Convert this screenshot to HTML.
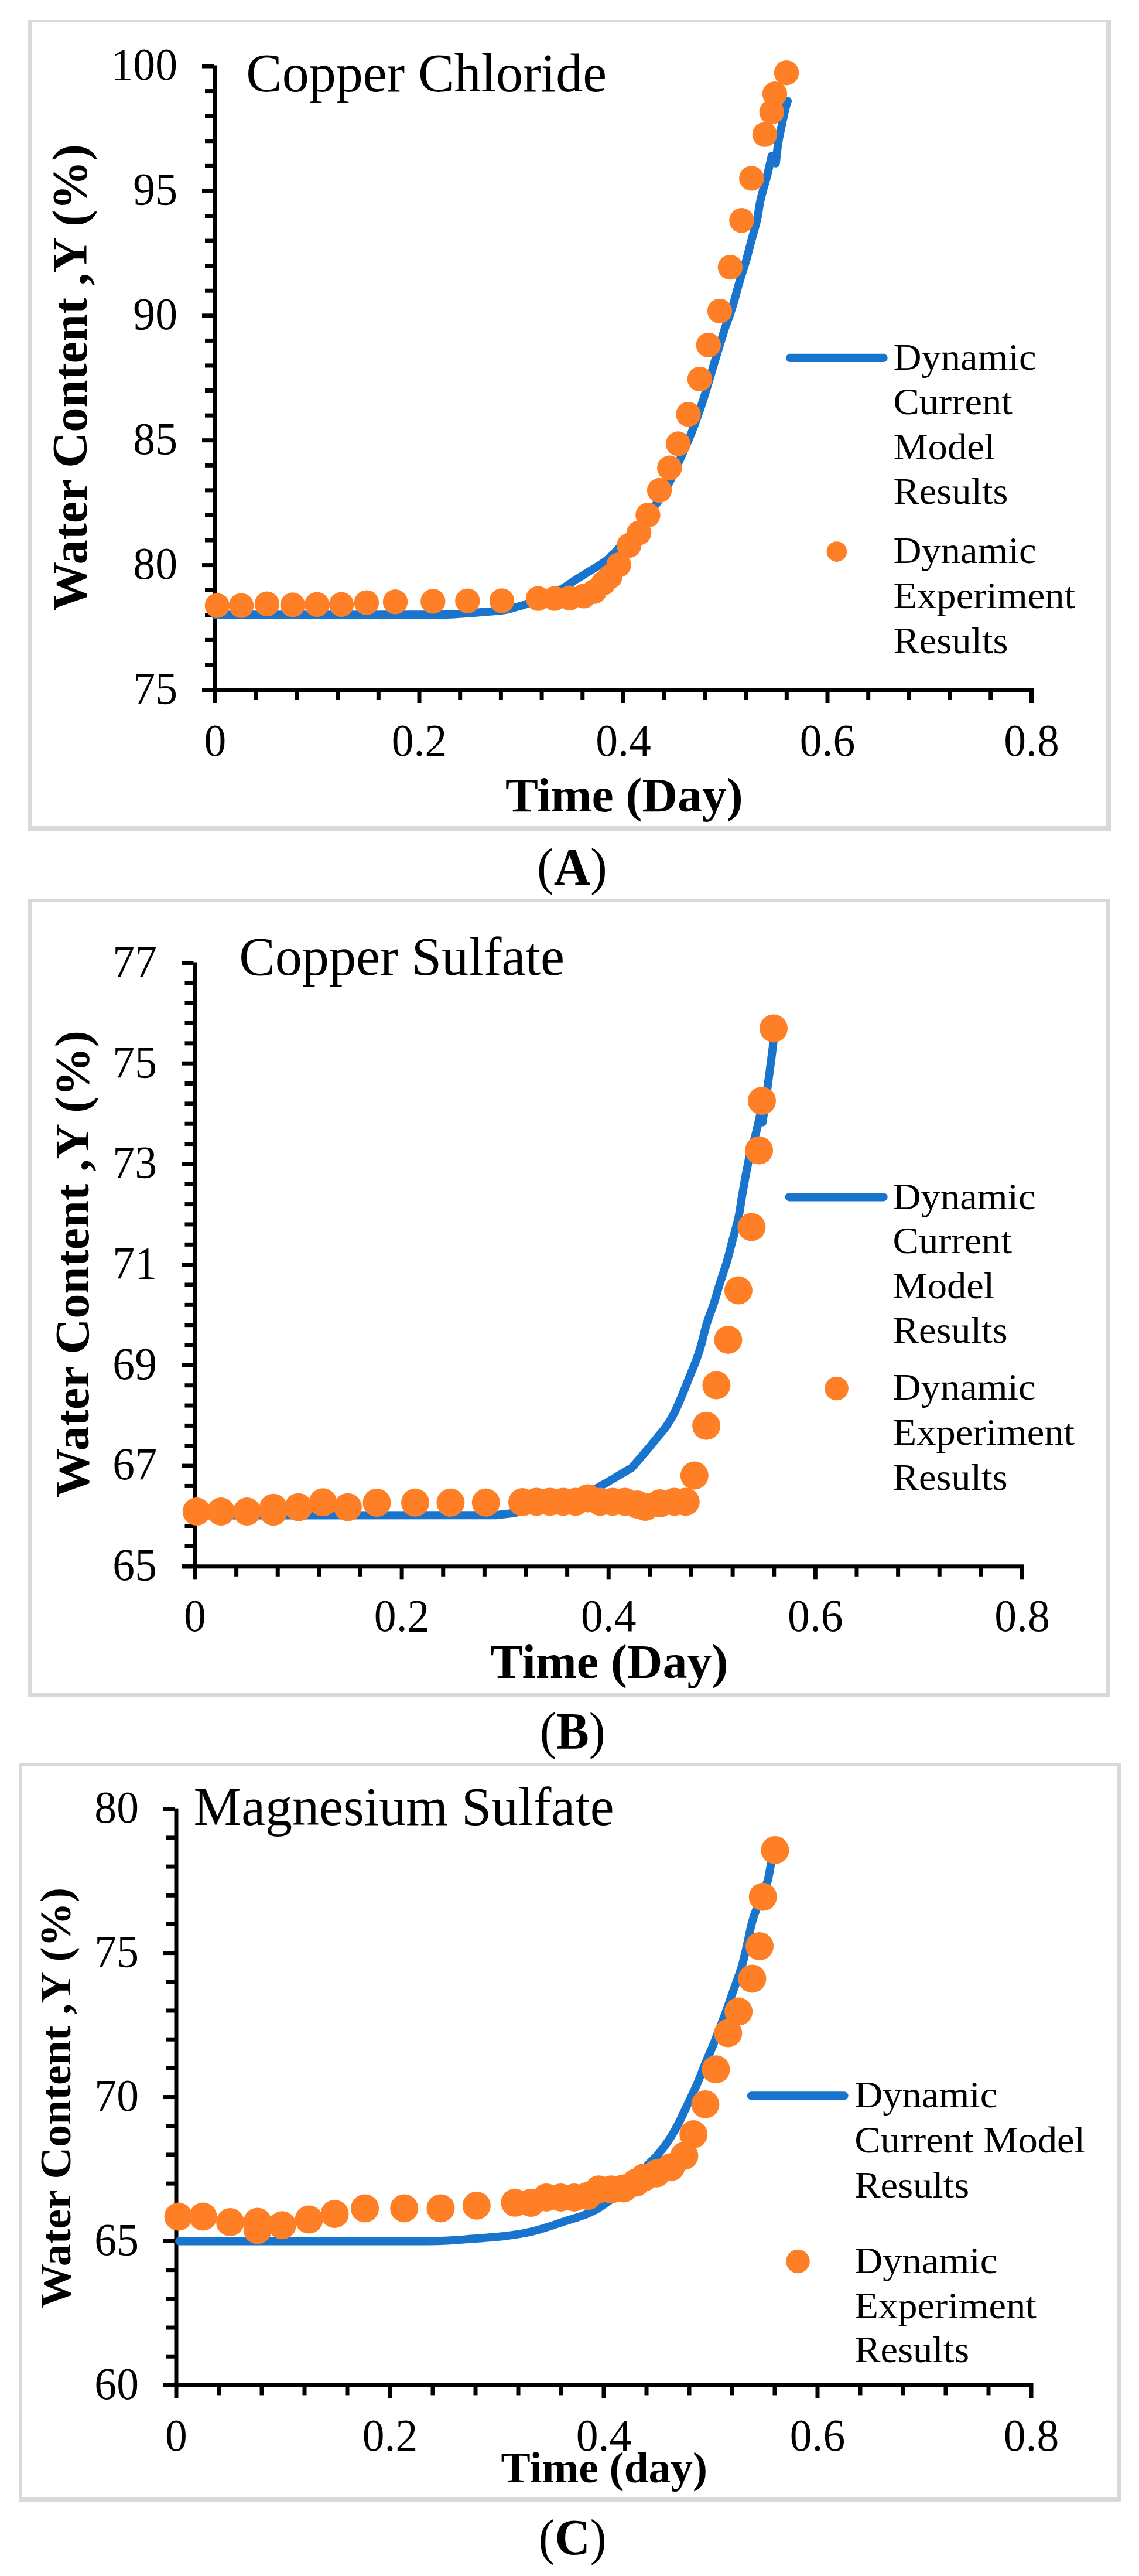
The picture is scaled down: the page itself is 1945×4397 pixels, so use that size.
<!DOCTYPE html>
<html lang="en"><head><meta charset="utf-8"><title>Water content vs time</title>
<style>html,body{margin:0;padding:0;background:#fff}svg{display:block}</style></head>
<body>
<svg width="1945" height="4397" viewBox="0 0 1945 4397" font-family='"Liberation Serif", serif' fill="#000">
<rect width="1945" height="4397" fill="#fff"/>
<rect x="48" y="34" width="1849" height="1384" fill="#d9d9d9"/>
<rect x="55" y="38" width="1834" height="1372" fill="#fff"/>
<rect x="364.00" y="111.50" width="7" height="1069.50" fill="#000"/>
<rect x="345.00" y="1174.00" width="1420.00" height="7" fill="#000"/>
<rect x="345.00" y="1174.00" width="20.00" height="7" fill="#000"/>
<text transform="translate(303.00 1200.90) scale(0.9700 1)" font-size="78.00" text-anchor="end" >75</text>
<rect x="350.00" y="1131.42" width="15.00" height="7" fill="#000"/>
<rect x="350.00" y="1088.84" width="15.00" height="7" fill="#000"/>
<rect x="350.00" y="1046.26" width="15.00" height="7" fill="#000"/>
<rect x="350.00" y="1003.68" width="15.00" height="7" fill="#000"/>
<rect x="345.00" y="961.10" width="20.00" height="7" fill="#000"/>
<text transform="translate(303.00 988.00) scale(0.9700 1)" font-size="78.00" text-anchor="end" >80</text>
<rect x="350.00" y="918.52" width="15.00" height="7" fill="#000"/>
<rect x="350.00" y="875.94" width="15.00" height="7" fill="#000"/>
<rect x="350.00" y="833.36" width="15.00" height="7" fill="#000"/>
<rect x="350.00" y="790.78" width="15.00" height="7" fill="#000"/>
<rect x="345.00" y="748.20" width="20.00" height="7" fill="#000"/>
<text transform="translate(303.00 775.10) scale(0.9700 1)" font-size="78.00" text-anchor="end" >85</text>
<rect x="350.00" y="705.62" width="15.00" height="7" fill="#000"/>
<rect x="350.00" y="663.04" width="15.00" height="7" fill="#000"/>
<rect x="350.00" y="620.46" width="15.00" height="7" fill="#000"/>
<rect x="350.00" y="577.88" width="15.00" height="7" fill="#000"/>
<rect x="345.00" y="535.30" width="20.00" height="7" fill="#000"/>
<text transform="translate(303.00 562.20) scale(0.9700 1)" font-size="78.00" text-anchor="end" >90</text>
<rect x="350.00" y="492.72" width="15.00" height="7" fill="#000"/>
<rect x="350.00" y="450.14" width="15.00" height="7" fill="#000"/>
<rect x="350.00" y="407.56" width="15.00" height="7" fill="#000"/>
<rect x="350.00" y="364.98" width="15.00" height="7" fill="#000"/>
<rect x="345.00" y="322.40" width="20.00" height="7" fill="#000"/>
<text transform="translate(303.00 349.30) scale(0.9700 1)" font-size="78.00" text-anchor="end" >95</text>
<rect x="350.00" y="279.82" width="15.00" height="7" fill="#000"/>
<rect x="350.00" y="237.24" width="15.00" height="7" fill="#000"/>
<rect x="350.00" y="194.66" width="15.00" height="7" fill="#000"/>
<rect x="350.00" y="152.08" width="15.00" height="7" fill="#000"/>
<rect x="345.00" y="109.50" width="20.00" height="7" fill="#000"/>
<text transform="translate(303.00 136.40) scale(0.9700 1)" font-size="78.00" text-anchor="end" >100</text>
<rect x="364.00" y="1180.00" width="7" height="20.00" fill="#000"/>
<text transform="translate(367.50 1290.00) scale(0.9700 1)" font-size="78.00" text-anchor="middle" >0</text>
<rect x="433.70" y="1180.00" width="7" height="14.50" fill="#000"/>
<rect x="503.40" y="1180.00" width="7" height="14.50" fill="#000"/>
<rect x="573.10" y="1180.00" width="7" height="14.50" fill="#000"/>
<rect x="642.80" y="1180.00" width="7" height="14.50" fill="#000"/>
<rect x="712.50" y="1180.00" width="7" height="20.00" fill="#000"/>
<text transform="translate(716.00 1290.00) scale(0.9700 1)" font-size="78.00" text-anchor="middle" >0.2</text>
<rect x="782.20" y="1180.00" width="7" height="14.50" fill="#000"/>
<rect x="851.90" y="1180.00" width="7" height="14.50" fill="#000"/>
<rect x="921.60" y="1180.00" width="7" height="14.50" fill="#000"/>
<rect x="991.30" y="1180.00" width="7" height="14.50" fill="#000"/>
<rect x="1061.00" y="1180.00" width="7" height="20.00" fill="#000"/>
<text transform="translate(1064.50 1290.00) scale(0.9700 1)" font-size="78.00" text-anchor="middle" >0.4</text>
<rect x="1130.70" y="1180.00" width="7" height="14.50" fill="#000"/>
<rect x="1200.40" y="1180.00" width="7" height="14.50" fill="#000"/>
<rect x="1270.10" y="1180.00" width="7" height="14.50" fill="#000"/>
<rect x="1339.80" y="1180.00" width="7" height="14.50" fill="#000"/>
<rect x="1409.50" y="1180.00" width="7" height="20.00" fill="#000"/>
<text transform="translate(1413.00 1290.00) scale(0.9700 1)" font-size="78.00" text-anchor="middle" >0.6</text>
<rect x="1479.20" y="1180.00" width="7" height="14.50" fill="#000"/>
<rect x="1548.90" y="1180.00" width="7" height="14.50" fill="#000"/>
<rect x="1618.60" y="1180.00" width="7" height="14.50" fill="#000"/>
<rect x="1688.30" y="1180.00" width="7" height="14.50" fill="#000"/>
<rect x="1758.00" y="1180.00" width="7" height="20.00" fill="#000"/>
<text transform="translate(1761.50 1290.00) scale(0.9700 1)" font-size="78.00" text-anchor="middle" >0.8</text>
<path d="M367.0 1049.3 C491.3 1049.3 615.7 1049.3 740.0 1049.3 C751.7 1049.0 763.3 1049.1 775.0 1048.5 C789.6 1047.7 813.1 1045.8 827.8 1044.6 C839.5 1043.6 854.0 1042.5 862.9 1041.1 C869.2 1040.1 876.4 1037.5 881.4 1036.2 C885.2 1035.2 889.1 1034.7 892.8 1033.3 C905.2 1028.5 940.4 1014.5 955.6 1007.1 C965.8 1002.1 976.8 993.5 984.2 988.8 C989.4 985.5 994.8 982.4 1000.0 979.1 C1008.3 973.9 1025.4 964.1 1034.2 957.5 C1041.1 952.4 1047.1 946.0 1053.0 939.7 C1060.3 931.8 1069.9 920.1 1078.3 910.3 C1089.3 897.5 1108.1 877.2 1118.8 862.9 C1127.8 850.8 1136.1 836.0 1142.5 824.3 C1148.1 814.1 1152.6 803.3 1157.4 792.7 C1163.9 778.2 1174.2 755.7 1181.5 737.0 C1188.8 718.4 1195.3 699.5 1201.5 680.5 C1207.9 660.8 1213.7 639.5 1219.9 619.0 C1226.1 598.5 1234.6 570.8 1238.9 557.6 C1240.8 551.6 1243.5 545.9 1245.5 540.0 C1247.9 533.0 1250.8 523.8 1253.2 515.6 C1256.1 505.7 1259.5 492.1 1262.9 480.5 C1266.4 468.8 1270.5 457.1 1273.9 445.4 C1277.3 433.7 1280.1 421.9 1283.2 410.2 C1286.3 398.5 1290.1 386.8 1292.7 375.1 C1295.3 363.5 1296.3 351.6 1299.0 340.0 C1302.0 327.1 1307.3 310.3 1310.4 298.0 C1313.1 287.5 1315.3 276.9 1317.8 266.4 C1320.1 270.5 1322.5 274.6 1324.8 278.7 C1326.1 267.6 1326.9 256.4 1328.7 245.4 C1330.5 234.0 1333.6 220.4 1335.7 210.2 C1337.5 201.4 1340.0 190.2 1341.5 183.9 C1342.5 180.0 1343.8 176.3 1345.0 172.5" fill="none" stroke="#1874cd" stroke-width="14" stroke-linecap="round" stroke-linejoin="round"/>
<g fill="#ff7f27"><circle cx="370.9" cy="1033.6" r="21.2"/><circle cx="412.0" cy="1033.6" r="21.2"/><circle cx="455.9" cy="1030.8" r="21.2"/><circle cx="499.8" cy="1032.5" r="21.2"/><circle cx="541.2" cy="1031.8" r="21.2"/><circle cx="583.0" cy="1031.8" r="21.2"/><circle cx="625.9" cy="1028.7" r="21.2"/><circle cx="675.0" cy="1027.3" r="21.2"/><circle cx="739.3" cy="1026.4" r="21.2"/><circle cx="798.3" cy="1025.7" r="21.2"/><circle cx="857.0" cy="1025.4" r="21.2"/><circle cx="919.0" cy="1021.6" r="21.2"/><circle cx="947.0" cy="1021.6" r="21.2"/><circle cx="972.7" cy="1020.8" r="21.2"/><circle cx="997.0" cy="1017.4" r="21.2"/><circle cx="1014.9" cy="1009.6" r="21.2"/><circle cx="1030.2" cy="995.5" r="21.2"/><circle cx="1041.5" cy="984.5" r="21.2"/><circle cx="1056.6" cy="964.3" r="21.2"/><circle cx="1074.2" cy="931.0" r="21.2"/><circle cx="1091.2" cy="909.5" r="21.2"/><circle cx="1106.4" cy="879.2" r="21.2"/><circle cx="1126.1" cy="837.0" r="21.2"/><circle cx="1143.3" cy="798.8" r="21.2"/><circle cx="1158.0" cy="757.5" r="21.2"/><circle cx="1175.4" cy="707.2" r="21.2"/><circle cx="1194.9" cy="646.9" r="21.2"/><circle cx="1209.8" cy="588.9" r="21.2"/><circle cx="1229.0" cy="530.9" r="21.2"/><circle cx="1246.9" cy="456.1" r="21.2"/><circle cx="1266.4" cy="376.3" r="21.2"/><circle cx="1283.3" cy="304.4" r="21.2"/><circle cx="1305.9" cy="229.6" r="21.2"/><circle cx="1317.8" cy="191.1" r="21.2"/><circle cx="1323.0" cy="160.3" r="21.2"/><circle cx="1343.0" cy="124.2" r="21.2"/></g>
<line x1="1349.0" y1="610.9" x2="1508.6" y2="610.9" stroke="#1874cd" stroke-width="14.2" stroke-linecap="round"/>
<circle cx="1428.9" cy="941.6" r="17.3" fill="#ff7f27"/>
<text transform="translate(1525.40 631.30) scale(1.0570 1)" font-size="63.00" text-anchor="start" >Dynamic</text>
<text transform="translate(1525.40 706.50) scale(1.0570 1)" font-size="63.00" text-anchor="start" >Current</text>
<text transform="translate(1525.40 783.70) scale(1.0570 1)" font-size="63.00" text-anchor="start" >Model</text>
<text transform="translate(1525.40 860.00) scale(1.0570 1)" font-size="63.00" text-anchor="start" >Results</text>
<text transform="translate(1525.40 960.70) scale(1.0570 1)" font-size="63.00" text-anchor="start" >Dynamic</text>
<text transform="translate(1525.40 1037.90) scale(1.0570 1)" font-size="63.00" text-anchor="start" >Experiment</text>
<text transform="translate(1525.40 1114.60) scale(1.0570 1)" font-size="63.00" text-anchor="start" >Results</text>
<rect x="48" y="1534" width="1848" height="1363" fill="#d9d9d9"/>
<rect x="55" y="1539" width="1833" height="1350" fill="#fff"/>
<rect x="329.50" y="1642.50" width="7" height="1034.80" fill="#000"/>
<rect x="310.50" y="2670.30" width="1438.50" height="7" fill="#000"/>
<rect x="310.50" y="2670.30" width="20.00" height="7" fill="#000"/>
<text transform="translate(268.00 2697.20) scale(0.9700 1)" font-size="78.00" text-anchor="end" >65</text>
<rect x="315.50" y="2635.96" width="15.00" height="7" fill="#000"/>
<rect x="315.50" y="2601.61" width="15.00" height="7" fill="#000"/>
<rect x="315.50" y="2567.27" width="15.00" height="7" fill="#000"/>
<rect x="315.50" y="2532.92" width="15.00" height="7" fill="#000"/>
<rect x="310.50" y="2498.58" width="20.00" height="7" fill="#000"/>
<text transform="translate(268.00 2525.48) scale(0.9700 1)" font-size="78.00" text-anchor="end" >67</text>
<rect x="315.50" y="2464.24" width="15.00" height="7" fill="#000"/>
<rect x="315.50" y="2429.89" width="15.00" height="7" fill="#000"/>
<rect x="315.50" y="2395.55" width="15.00" height="7" fill="#000"/>
<rect x="315.50" y="2361.20" width="15.00" height="7" fill="#000"/>
<rect x="310.50" y="2326.86" width="20.00" height="7" fill="#000"/>
<text transform="translate(268.00 2353.76) scale(0.9700 1)" font-size="78.00" text-anchor="end" >69</text>
<rect x="315.50" y="2292.52" width="15.00" height="7" fill="#000"/>
<rect x="315.50" y="2258.17" width="15.00" height="7" fill="#000"/>
<rect x="315.50" y="2223.83" width="15.00" height="7" fill="#000"/>
<rect x="315.50" y="2189.48" width="15.00" height="7" fill="#000"/>
<rect x="310.50" y="2155.14" width="20.00" height="7" fill="#000"/>
<text transform="translate(268.00 2182.04) scale(0.9700 1)" font-size="78.00" text-anchor="end" >71</text>
<rect x="315.50" y="2120.80" width="15.00" height="7" fill="#000"/>
<rect x="315.50" y="2086.45" width="15.00" height="7" fill="#000"/>
<rect x="315.50" y="2052.11" width="15.00" height="7" fill="#000"/>
<rect x="315.50" y="2017.76" width="15.00" height="7" fill="#000"/>
<rect x="310.50" y="1983.42" width="20.00" height="7" fill="#000"/>
<text transform="translate(268.00 2010.32) scale(0.9700 1)" font-size="78.00" text-anchor="end" >73</text>
<rect x="315.50" y="1949.08" width="15.00" height="7" fill="#000"/>
<rect x="315.50" y="1914.73" width="15.00" height="7" fill="#000"/>
<rect x="315.50" y="1880.39" width="15.00" height="7" fill="#000"/>
<rect x="315.50" y="1846.04" width="15.00" height="7" fill="#000"/>
<rect x="310.50" y="1811.70" width="20.00" height="7" fill="#000"/>
<text transform="translate(268.00 1838.60) scale(0.9700 1)" font-size="78.00" text-anchor="end" >75</text>
<rect x="315.50" y="1777.36" width="15.00" height="7" fill="#000"/>
<rect x="315.50" y="1743.01" width="15.00" height="7" fill="#000"/>
<rect x="315.50" y="1708.67" width="15.00" height="7" fill="#000"/>
<rect x="315.50" y="1674.32" width="15.00" height="7" fill="#000"/>
<rect x="310.50" y="1639.98" width="20.00" height="7" fill="#000"/>
<text transform="translate(268.00 1666.88) scale(0.9700 1)" font-size="78.00" text-anchor="end" >77</text>
<rect x="329.50" y="2676.30" width="7" height="20.00" fill="#000"/>
<text transform="translate(333.00 2784.00) scale(0.9700 1)" font-size="78.00" text-anchor="middle" >0</text>
<rect x="400.12" y="2676.30" width="7" height="14.50" fill="#000"/>
<rect x="470.75" y="2676.30" width="7" height="14.50" fill="#000"/>
<rect x="541.37" y="2676.30" width="7" height="14.50" fill="#000"/>
<rect x="612.00" y="2676.30" width="7" height="14.50" fill="#000"/>
<rect x="682.62" y="2676.30" width="7" height="20.00" fill="#000"/>
<text transform="translate(686.12 2784.00) scale(0.9700 1)" font-size="78.00" text-anchor="middle" >0.2</text>
<rect x="753.24" y="2676.30" width="7" height="14.50" fill="#000"/>
<rect x="823.87" y="2676.30" width="7" height="14.50" fill="#000"/>
<rect x="894.49" y="2676.30" width="7" height="14.50" fill="#000"/>
<rect x="965.12" y="2676.30" width="7" height="14.50" fill="#000"/>
<rect x="1035.74" y="2676.30" width="7" height="20.00" fill="#000"/>
<text transform="translate(1039.24 2784.00) scale(0.9700 1)" font-size="78.00" text-anchor="middle" >0.4</text>
<rect x="1106.36" y="2676.30" width="7" height="14.50" fill="#000"/>
<rect x="1176.99" y="2676.30" width="7" height="14.50" fill="#000"/>
<rect x="1247.61" y="2676.30" width="7" height="14.50" fill="#000"/>
<rect x="1318.24" y="2676.30" width="7" height="14.50" fill="#000"/>
<rect x="1388.86" y="2676.30" width="7" height="20.00" fill="#000"/>
<text transform="translate(1392.36 2784.00) scale(0.9700 1)" font-size="78.00" text-anchor="middle" >0.6</text>
<rect x="1459.48" y="2676.30" width="7" height="14.50" fill="#000"/>
<rect x="1530.11" y="2676.30" width="7" height="14.50" fill="#000"/>
<rect x="1600.73" y="2676.30" width="7" height="14.50" fill="#000"/>
<rect x="1671.36" y="2676.30" width="7" height="14.50" fill="#000"/>
<rect x="1741.98" y="2676.30" width="7" height="20.00" fill="#000"/>
<text transform="translate(1745.48 2784.00) scale(0.9700 1)" font-size="78.00" text-anchor="middle" >0.8</text>
<path d="M333.0 2586.6 C504.0 2586.5 675.0 2586.4 846.0 2586.3 C857.3 2584.9 868.7 2583.9 880.0 2582.0 C892.3 2579.9 906.8 2577.3 920.0 2574.0 C933.3 2570.7 946.7 2566.0 960.0 2562.0 C973.3 2558.0 988.6 2554.5 1000.0 2550.0 C1010.0 2546.0 1019.1 2540.2 1028.5 2534.9 C1041.7 2527.4 1062.2 2515.1 1079.0 2505.2 C1085.6 2497.5 1092.3 2489.9 1098.8 2482.2 C1105.8 2474.0 1114.1 2463.9 1120.7 2455.8 C1126.6 2448.6 1133.2 2441.2 1138.3 2433.9 C1143.2 2426.9 1147.5 2419.5 1151.4 2411.9 C1155.7 2403.5 1160.0 2392.9 1164.0 2383.4 C1168.0 2374.0 1171.7 2364.4 1175.5 2354.9 C1179.8 2344.3 1185.8 2329.9 1189.5 2320.0 C1192.5 2312.0 1195.1 2303.8 1197.4 2295.6 C1200.2 2285.7 1203.0 2272.1 1206.5 2260.5 C1210.1 2248.8 1215.0 2237.1 1218.8 2225.4 C1222.6 2213.7 1225.7 2201.9 1229.4 2190.2 C1233.1 2178.5 1237.3 2166.8 1240.8 2155.1 C1244.2 2143.5 1247.0 2131.7 1250.1 2120.0 C1253.5 2107.2 1258.3 2090.8 1261.1 2078.0 C1263.6 2066.4 1264.9 2054.6 1266.9 2042.9 C1268.9 2031.2 1271.5 2016.6 1273.1 2007.8 C1274.2 2001.9 1275.4 1996.0 1276.6 1990.2 C1277.8 1984.4 1278.6 1978.5 1280.1 1972.7 C1282.2 1964.3 1286.6 1951.0 1289.4 1940.0 C1292.3 1928.7 1294.9 1916.7 1297.6 1905.0 C1299.1 1908.5 1300.7 1912.1 1302.2 1915.6 C1305.5 1892.2 1309.6 1863.0 1312.0 1845.4 C1313.6 1833.7 1315.3 1821.9 1316.8 1810.2 C1318.4 1798.0 1319.9 1784.7 1321.5 1772.0" fill="none" stroke="#1874cd" stroke-width="14" stroke-linecap="round" stroke-linejoin="round"/>
<g fill="#ff7f27"><circle cx="335.8" cy="2580.1" r="24"/><circle cx="377.3" cy="2580.1" r="24"/><circle cx="421.9" cy="2580.1" r="24"/><circle cx="466.8" cy="2580.4" r="24"/><circle cx="466.8" cy="2573.7" r="24"/><circle cx="509.7" cy="2572.7" r="24"/><circle cx="551.4" cy="2564.3" r="24"/><circle cx="593.9" cy="2572.7" r="24"/><circle cx="643.5" cy="2565.0" r="24"/><circle cx="709.0" cy="2564.8" r="24"/><circle cx="769.4" cy="2564.8" r="24"/><circle cx="829.8" cy="2564.8" r="24"/><circle cx="892.0" cy="2564.1" r="24"/><circle cx="916.2" cy="2563.4" r="24"/><circle cx="939.0" cy="2563.4" r="24"/><circle cx="961.8" cy="2563.4" r="24"/><circle cx="982.9" cy="2563.4" r="24"/><circle cx="1004.0" cy="2557.5" r="24"/><circle cx="1025.0" cy="2563.4" r="24"/><circle cx="1046.0" cy="2563.4" r="24"/><circle cx="1067.0" cy="2563.4" r="24"/><circle cx="1088.3" cy="2568.0" r="24"/><circle cx="1102.0" cy="2572.0" r="24"/><circle cx="1127.0" cy="2566.0" r="24"/><circle cx="1151.5" cy="2563.4" r="24"/><circle cx="1170.8" cy="2563.4" r="24"/><circle cx="1185.8" cy="2518.6" r="24"/><circle cx="1206.1" cy="2433.7" r="24"/><circle cx="1223.4" cy="2364.5" r="24"/><circle cx="1243.4" cy="2286.9" r="24"/><circle cx="1260.9" cy="2202.6" r="24"/><circle cx="1283.4" cy="2094.5" r="24"/><circle cx="1296.1" cy="1963.6" r="24"/><circle cx="1301.0" cy="1879.0" r="24"/><circle cx="1321.0" cy="1755.4" r="24"/></g>
<line x1="1347.7" y1="2043.3" x2="1508.6" y2="2043.3" stroke="#1874cd" stroke-width="14.2" stroke-linecap="round"/>
<circle cx="1428.6" cy="2370.0" r="20.3" fill="#ff7f27"/>
<text transform="translate(1524.50 2063.70) scale(1.0570 1)" font-size="63.00" text-anchor="start" >Dynamic</text>
<text transform="translate(1524.50 2139.00) scale(1.0570 1)" font-size="63.00" text-anchor="start" >Current</text>
<text transform="translate(1524.50 2216.20) scale(1.0570 1)" font-size="63.00" text-anchor="start" >Model</text>
<text transform="translate(1524.50 2292.40) scale(1.0570 1)" font-size="63.00" text-anchor="start" >Results</text>
<text transform="translate(1524.50 2389.20) scale(1.0570 1)" font-size="63.00" text-anchor="start" >Dynamic</text>
<text transform="translate(1524.50 2465.90) scale(1.0570 1)" font-size="63.00" text-anchor="start" >Experiment</text>
<text transform="translate(1524.50 2543.10) scale(1.0570 1)" font-size="63.00" text-anchor="start" >Results</text>
<rect x="32" y="3009" width="1883" height="1261" fill="#d9d9d9"/>
<rect x="37" y="3014" width="1871" height="1248" fill="#fff"/>
<rect x="297.50" y="3086.70" width="7" height="988.20" fill="#000"/>
<rect x="278.50" y="4067.90" width="1486.00" height="7" fill="#000"/>
<rect x="278.50" y="4067.90" width="20.00" height="7" fill="#000"/>
<text transform="translate(237.00 4094.80) scale(0.9700 1)" font-size="78.00" text-anchor="end" >60</text>
<rect x="283.50" y="4018.72" width="15.00" height="7" fill="#000"/>
<rect x="283.50" y="3969.53" width="15.00" height="7" fill="#000"/>
<rect x="283.50" y="3920.35" width="15.00" height="7" fill="#000"/>
<rect x="283.50" y="3871.16" width="15.00" height="7" fill="#000"/>
<rect x="278.50" y="3821.97" width="20.00" height="7" fill="#000"/>
<text transform="translate(237.00 3848.88) scale(0.9700 1)" font-size="78.00" text-anchor="end" >65</text>
<rect x="283.50" y="3772.79" width="15.00" height="7" fill="#000"/>
<rect x="283.50" y="3723.61" width="15.00" height="7" fill="#000"/>
<rect x="283.50" y="3674.42" width="15.00" height="7" fill="#000"/>
<rect x="283.50" y="3625.24" width="15.00" height="7" fill="#000"/>
<rect x="278.50" y="3576.05" width="20.00" height="7" fill="#000"/>
<text transform="translate(237.00 3602.95) scale(0.9700 1)" font-size="78.00" text-anchor="end" >70</text>
<rect x="283.50" y="3526.86" width="15.00" height="7" fill="#000"/>
<rect x="283.50" y="3477.68" width="15.00" height="7" fill="#000"/>
<rect x="283.50" y="3428.49" width="15.00" height="7" fill="#000"/>
<rect x="283.50" y="3379.31" width="15.00" height="7" fill="#000"/>
<rect x="278.50" y="3330.12" width="20.00" height="7" fill="#000"/>
<text transform="translate(237.00 3357.03) scale(0.9700 1)" font-size="78.00" text-anchor="end" >75</text>
<rect x="283.50" y="3280.94" width="15.00" height="7" fill="#000"/>
<rect x="283.50" y="3231.76" width="15.00" height="7" fill="#000"/>
<rect x="283.50" y="3182.57" width="15.00" height="7" fill="#000"/>
<rect x="283.50" y="3133.39" width="15.00" height="7" fill="#000"/>
<rect x="278.50" y="3084.20" width="20.00" height="7" fill="#000"/>
<text transform="translate(237.00 3111.10) scale(0.9700 1)" font-size="78.00" text-anchor="end" >80</text>
<rect x="297.50" y="4073.90" width="7" height="20.00" fill="#000"/>
<text transform="translate(301.00 4183.00) scale(0.9700 1)" font-size="78.00" text-anchor="middle" >0</text>
<rect x="370.50" y="4073.90" width="7" height="14.50" fill="#000"/>
<rect x="443.50" y="4073.90" width="7" height="14.50" fill="#000"/>
<rect x="516.50" y="4073.90" width="7" height="14.50" fill="#000"/>
<rect x="589.50" y="4073.90" width="7" height="14.50" fill="#000"/>
<rect x="662.50" y="4073.90" width="7" height="20.00" fill="#000"/>
<text transform="translate(666.00 4183.00) scale(0.9700 1)" font-size="78.00" text-anchor="middle" >0.2</text>
<rect x="735.50" y="4073.90" width="7" height="14.50" fill="#000"/>
<rect x="808.50" y="4073.90" width="7" height="14.50" fill="#000"/>
<rect x="881.50" y="4073.90" width="7" height="14.50" fill="#000"/>
<rect x="954.50" y="4073.90" width="7" height="14.50" fill="#000"/>
<rect x="1027.50" y="4073.90" width="7" height="20.00" fill="#000"/>
<text transform="translate(1031.00 4183.00) scale(0.9700 1)" font-size="78.00" text-anchor="middle" >0.4</text>
<rect x="1100.50" y="4073.90" width="7" height="14.50" fill="#000"/>
<rect x="1173.50" y="4073.90" width="7" height="14.50" fill="#000"/>
<rect x="1246.50" y="4073.90" width="7" height="14.50" fill="#000"/>
<rect x="1319.50" y="4073.90" width="7" height="14.50" fill="#000"/>
<rect x="1392.50" y="4073.90" width="7" height="20.00" fill="#000"/>
<text transform="translate(1396.00 4183.00) scale(0.9700 1)" font-size="78.00" text-anchor="middle" >0.6</text>
<rect x="1465.50" y="4073.90" width="7" height="14.50" fill="#000"/>
<rect x="1538.50" y="4073.90" width="7" height="14.50" fill="#000"/>
<rect x="1611.50" y="4073.90" width="7" height="14.50" fill="#000"/>
<rect x="1684.50" y="4073.90" width="7" height="14.50" fill="#000"/>
<rect x="1757.50" y="4073.90" width="7" height="20.00" fill="#000"/>
<text transform="translate(1761.00 4183.00) scale(0.9700 1)" font-size="78.00" text-anchor="middle" >0.8</text>
<path d="M306.0 3825.5 C437.3 3825.5 568.7 3825.6 700.0 3825.6 C717.6 3825.4 735.2 3825.8 752.7 3825.1 C770.2 3824.4 787.8 3822.9 805.3 3821.6 C822.8 3820.3 844.8 3818.5 858.0 3817.2 C866.8 3816.3 875.6 3815.1 884.4 3813.7 C893.2 3812.2 902.0 3810.7 910.7 3808.5 C919.5 3806.3 928.3 3803.4 937.0 3800.6 C945.8 3797.8 954.6 3794.8 963.4 3791.9 C973.9 3788.5 989.9 3784.0 1000.0 3780.0 C1008.3 3776.7 1016.6 3773.0 1024.0 3768.0 C1035.7 3760.2 1055.7 3745.7 1070.0 3733.0 C1084.3 3720.3 1100.9 3700.8 1109.7 3691.7 C1114.0 3687.2 1118.9 3683.3 1122.9 3678.5 C1128.4 3671.9 1136.9 3661.0 1142.7 3652.2 C1148.3 3643.7 1153.4 3634.5 1158.0 3625.8 C1162.5 3617.4 1166.3 3608.6 1170.4 3600.0 C1175.8 3588.7 1184.5 3570.8 1190.1 3558.0 C1195.1 3546.5 1199.3 3534.5 1204.1 3522.9 C1208.9 3511.2 1214.3 3499.6 1219.0 3487.8 C1224.8 3473.2 1233.8 3449.7 1239.2 3435.1 C1243.5 3423.5 1247.4 3411.7 1251.5 3400.0 C1256.0 3387.2 1262.3 3370.8 1266.2 3358.0 C1269.7 3346.5 1272.3 3334.6 1275.0 3322.9 C1277.7 3311.2 1280.5 3296.6 1282.5 3287.8 C1283.9 3281.9 1285.7 3276.1 1287.3 3270.2 C1295.4 3249.8 1303.4 3229.4 1311.5 3209.0 C1314.5 3192.7 1317.5 3176.3 1320.5 3160.0" fill="none" stroke="#1874cd" stroke-width="14" stroke-linecap="round" stroke-linejoin="round"/>
<g fill="#ff7f27"><circle cx="304.6" cy="3783.6" r="24"/><circle cx="346.7" cy="3783.6" r="24"/><circle cx="393.1" cy="3793.1" r="24"/><circle cx="439.8" cy="3792.5" r="24"/><circle cx="439.8" cy="3806.6" r="24"/><circle cx="481.9" cy="3798.3" r="24"/><circle cx="527.6" cy="3788.5" r="24"/><circle cx="571.5" cy="3779.0" r="24"/><circle cx="623.1" cy="3769.5" r="24"/><circle cx="690.2" cy="3769.4" r="24"/><circle cx="752.4" cy="3769.4" r="24"/><circle cx="813.8" cy="3764.8" r="24"/><circle cx="879.4" cy="3759.8" r="24"/><circle cx="906.7" cy="3760.0" r="24"/><circle cx="933.0" cy="3750.9" r="24"/><circle cx="957.6" cy="3750.9" r="24"/><circle cx="980.5" cy="3750.9" r="24"/><circle cx="1003.3" cy="3748.4" r="24"/><circle cx="1022.6" cy="3737.2" r="24"/><circle cx="1043.7" cy="3737.2" r="24"/><circle cx="1064.8" cy="3735.4" r="24"/><circle cx="1085.8" cy="3725.6" r="24"/><circle cx="1099.9" cy="3716.8" r="24"/><circle cx="1121.0" cy="3709.8" r="24"/><circle cx="1145.5" cy="3699.2" r="24"/><circle cx="1168.4" cy="3679.9" r="24"/><circle cx="1184.2" cy="3643.1" r="24"/><circle cx="1204.4" cy="3591.9" r="24"/><circle cx="1222.5" cy="3532.2" r="24"/><circle cx="1243.3" cy="3470.5" r="24"/><circle cx="1261.2" cy="3433.6" r="24"/><circle cx="1284.4" cy="3377.4" r="24"/><circle cx="1297.0" cy="3322.0" r="24"/><circle cx="1302.7" cy="3237.7" r="24"/><circle cx="1323.4" cy="3157.9" r="24"/></g>
<line x1="1282.8" y1="3577.3" x2="1441.5" y2="3577.3" stroke="#1874cd" stroke-width="14.2" stroke-linecap="round"/>
<circle cx="1362.5" cy="3860.0" r="20.3" fill="#ff7f27"/>
<text transform="translate(1459.20 3597.00) scale(1.0570 1)" font-size="63.00" text-anchor="start" >Dynamic</text>
<text transform="translate(1459.20 3674.10) scale(1.0570 1)" font-size="63.00" text-anchor="start" >Current Model</text>
<text transform="translate(1459.20 3751.10) scale(1.0570 1)" font-size="63.00" text-anchor="start" >Results</text>
<text transform="translate(1459.20 3879.60) scale(1.0570 1)" font-size="63.00" text-anchor="start" >Dynamic</text>
<text transform="translate(1459.20 3956.60) scale(1.0570 1)" font-size="63.00" text-anchor="start" >Experiment</text>
<text transform="translate(1459.20 4032.00) scale(1.0570 1)" font-size="63.00" text-anchor="start" >Results</text>
<text transform="translate(420.32 156.24) scale(0.9876 1)" font-size="93.15" xml:space="preserve">Copper Chloride</text>
<text transform="translate(862.94 1384.77) scale(1.0099 1)" font-size="83.00" xml:space="preserve"><tspan font-weight="bold">Time (Day)</tspan></text>
<text transform="translate(148.43 1043.27) rotate(-90) scale(1.0090 1)" font-size="83.67" xml:space="preserve"><tspan font-weight="bold">Water Content ,Y (%)</tspan></text>
<text transform="translate(916.92 1509.47) scale(0.9783 1)" font-size="88.22" xml:space="preserve">(<tspan font-weight="bold">A</tspan>)</text>
<text transform="translate(408.21 1664.42) scale(0.9992 1)" font-size="92.31" xml:space="preserve">Copper Sulfate</text>
<text transform="translate(836.94 2863.55) scale(1.0103 1)" font-size="83.11" xml:space="preserve"><tspan font-weight="bold">Time (Day)</tspan></text>
<text transform="translate(151.30 2556.17) rotate(-90) scale(1.0129 1)" font-size="83.33" xml:space="preserve"><tspan font-weight="bold">Water Content ,Y (%)</tspan></text>
<text transform="translate(922.03 2984.17) scale(0.9487 1)" font-size="88.22" xml:space="preserve">(<tspan font-weight="bold">B</tspan>)</text>
<text transform="translate(330.44 3115.26) scale(0.9994 1)" font-size="92.09" xml:space="preserve">Magnesium Sulfate</text>
<text transform="translate(855.57 4237.38) scale(1.0267 1)" font-size="73.44" xml:space="preserve"><tspan font-weight="bold">Time (day)</tspan></text>
<text transform="translate(120.42 3940.04) rotate(-90) scale(1.0188 1)" font-size="74.67" xml:space="preserve"><tspan font-weight="bold">Water Content ,Y (%)</tspan></text>
<text transform="translate(919.64 4360.28) scale(0.9569 1)" font-size="87.22" xml:space="preserve">(<tspan font-weight="bold">C</tspan>)</text>
</svg>
</body></html>
